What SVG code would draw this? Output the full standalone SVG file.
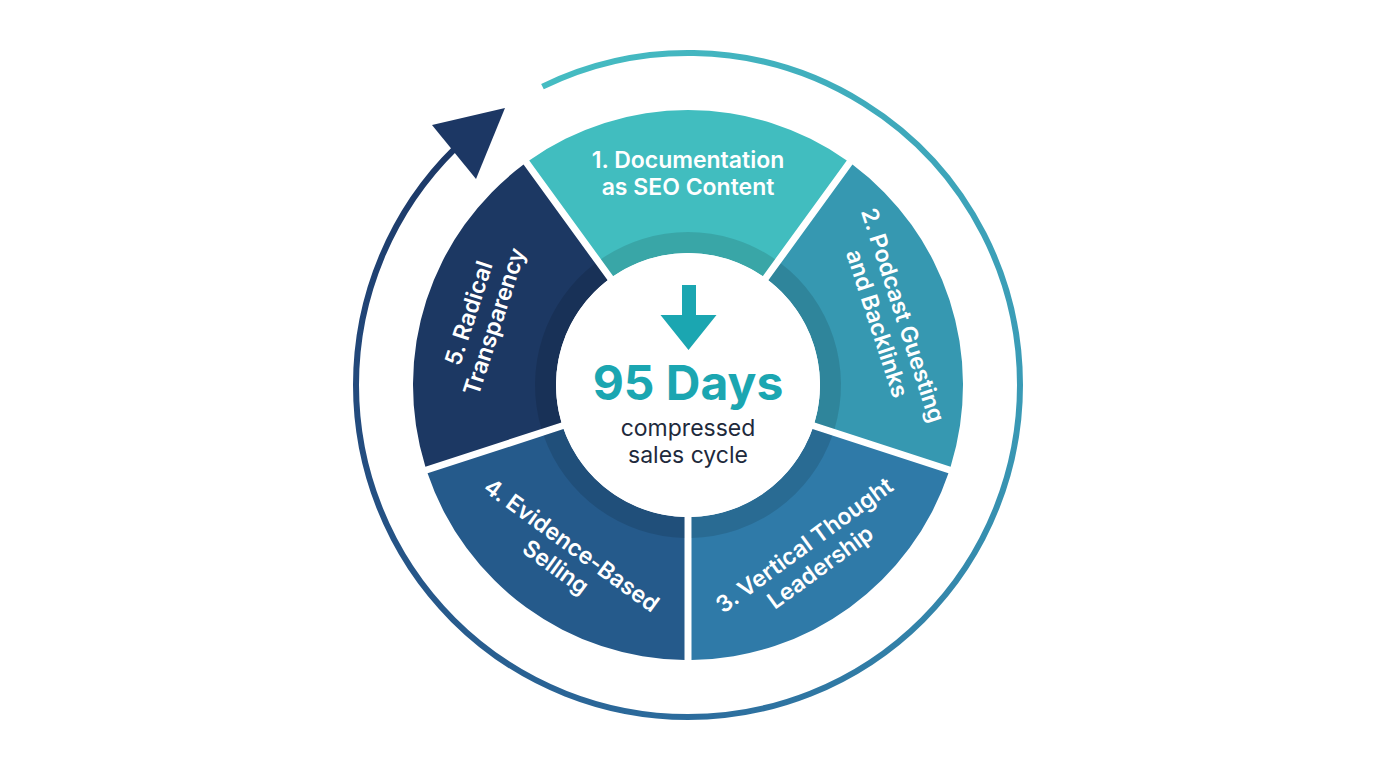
<svg xmlns="http://www.w3.org/2000/svg" width="1376" height="768" viewBox="0 0 1376 768">
  <defs>
    <linearGradient id="gA" gradientUnits="userSpaceOnUse" x1="542" y1="87" x2="1020" y2="385">
      <stop offset="0" stop-color="#45bcc2"/>
      <stop offset="1" stop-color="#3a9bb6"/>
    </linearGradient>
    <linearGradient id="gB" gradientUnits="userSpaceOnUse" x1="1020" y1="385" x2="688" y2="717">
      <stop offset="0" stop-color="#3a9bb6"/>
      <stop offset="1" stop-color="#2c6c9d"/>
    </linearGradient>
    <linearGradient id="gC" gradientUnits="userSpaceOnUse" x1="688" y1="717" x2="356" y2="385">
      <stop offset="0" stop-color="#2c6c9d"/>
      <stop offset="1" stop-color="#22497c"/>
    </linearGradient>
    <linearGradient id="gD" gradientUnits="userSpaceOnUse" x1="356" y1="385" x2="453" y2="150">
      <stop offset="0" stop-color="#22497c"/>
      <stop offset="1" stop-color="#1c3866"/>
    </linearGradient>
  </defs>
  <style>
    .arc { fill: none; stroke-width: 6; }
    .band { fill: #000; fill-opacity: 0.12; }
    .lbl { font-family: Inter, "Liberation Sans", sans-serif; font-weight: 600; font-size: 23px; fill: #ffffff; text-anchor: middle; }
    .big { font-family: Inter, "Liberation Sans", sans-serif; font-weight: 700; font-size: 48px; fill: #1ba6b1; text-anchor: middle; }
    .sub { font-family: Inter, "Liberation Sans", sans-serif; font-weight: 400; font-size: 23px; fill: #1e2a3c; text-anchor: middle; }
  </style>
  <rect width="1376" height="768" fill="#ffffff"/>

  <g id="connectors">
    <path class="arc" stroke="url(#gA)" d="M542.46,86.60 A332,332 0 0 1 1020,385"/>
    <path class="arc" stroke="url(#gB)" d="M1020,385 A332,332 0 0 1 688,717"/>
    <path class="arc" stroke="url(#gC)" d="M688,717 A332,332 0 0 1 356,385"/>
    <path class="arc" stroke="url(#gD)" d="M356,385 A332,332 0 0 1 455.5,148"/>
    <polygon points="505,108 432,125 476,179" fill="#1c3764"/>
  </g>

  <g id="seg1">
    <path fill="#41bdbf" d="M529.20,160.48 A275,275 0 0 1 846.80,160.48 L762.73,276.19 A132,132 0 0 0 613.27,276.19 Z"/>
    <path class="band" d="M600.92,259.19 A153,153 0 0 1 775.08,259.19 L762.73,276.19 A132,132 0 0 0 613.27,276.19 Z"/>
    <text class="lbl" fill="#eef9f9" transform="translate(688,174)"><tspan x="0" y="-6">1. Documentation</tspan><tspan x="0" y="21">as SEO Content</tspan></text>
  </g>

  <g id="seg2">
    <path fill="#3698b1" d="M852.46,164.60 A275,275 0 0 1 950.60,466.64 L814.58,422.45 A132,132 0 0 0 768.39,280.30 Z"/>
    <path class="band" d="M780.74,263.31 A153,153 0 0 1 834.56,428.94 L814.58,422.45 A132,132 0 0 0 768.39,280.30 Z"/>
    <text class="lbl" transform="translate(889.6,319.5) rotate(72)"><tspan x="0" y="-6">2. Podcast Guesting</tspan><tspan x="0" y="21">and Backlinks</tspan></text>
  </g>

  <g id="seg3">
    <path fill="#2f7aa8" d="M948.44,473.30 A275,275 0 0 1 691.50,659.98 L691.50,516.95 A132,132 0 0 0 812.42,429.10 Z"/>
    <path class="band" d="M832.39,435.60 A153,153 0 0 1 691.50,537.96 L691.50,516.95 A132,132 0 0 0 812.42,429.10 Z"/>
    <text class="lbl" transform="translate(812.6,556.5) rotate(-36)"><tspan x="0" y="-6">3. Vertical Thought</tspan><tspan x="0" y="21">Leadership</tspan></text>
  </g>

  <g id="seg4">
    <path fill="#255a8b" d="M684.50,659.98 A275,275 0 0 1 427.56,473.30 L563.58,429.10 A132,132 0 0 0 684.50,516.95 Z"/>
    <path class="band" d="M684.50,537.96 A153,153 0 0 1 543.61,435.60 L563.58,429.10 A132,132 0 0 0 684.50,516.95 Z"/>
    <text class="lbl" transform="translate(563.4,556.5) rotate(36)"><tspan x="0" y="-6">4. Evidence-Based</tspan><tspan x="0" y="21">Selling</tspan></text>
  </g>

  <g id="seg5">
    <path fill="#1c3863" d="M425.40,466.64 A275,275 0 0 1 523.54,164.60 L607.61,280.30 A132,132 0 0 0 561.42,422.45 Z"/>
    <path class="band" d="M541.44,428.94 A153,153 0 0 1 595.26,263.31 L607.61,280.30 A132,132 0 0 0 561.42,422.45 Z"/>
    <text class="lbl" transform="translate(482,317.5) rotate(-72)"><tspan x="0" y="-6">5. Radical</tspan><tspan x="0" y="21">Transparency</tspan></text>
  </g>

  <g id="center">
    <circle cx="688" cy="385" r="132" fill="#ffffff"/>
    <path fill="#1ba6b1" d="M682,285 H696 V315 H716.5 L688.5,350 L660.5,315 H682 Z"/>
    <text class="big" x="688" y="400">95 Days</text>
    <text class="sub" x="688" y="436">compressed</text>
    <text class="sub" x="688" y="463">sales cycle</text>
  </g>
</svg>
